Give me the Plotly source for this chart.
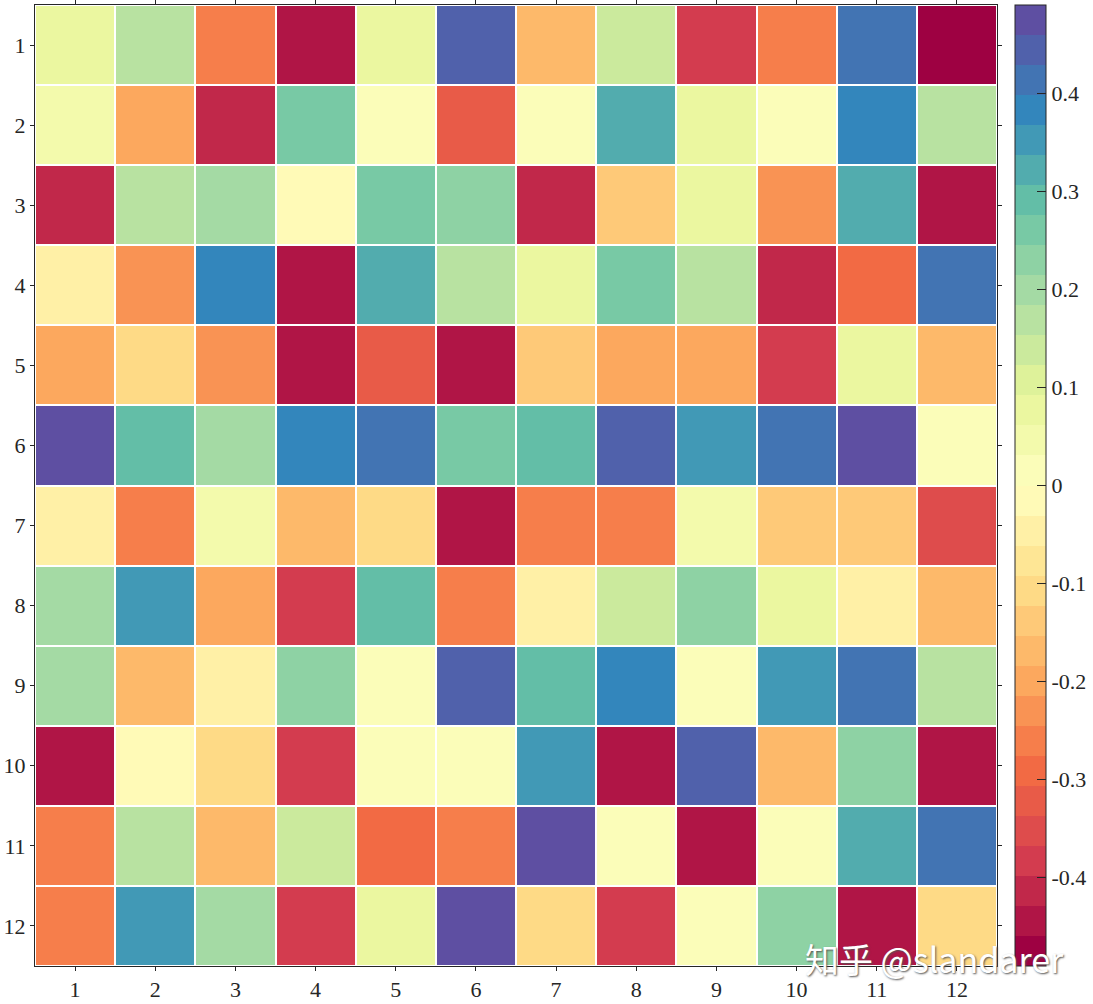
import plotly.graph_objects as go
from plotly.colors import sample_colorscale
from plotly.colors import diverging

rows = [str(i) for i in range(1, 13)]
cols = [str(i) for i in range(1, 13)]

values = [
    [0.08, 0.16, -0.27, -0.44, 0.07, 0.45, -0.18, 0.13, -0.39, -0.27, 0.42, -0.48],
    [0.06, -0.21, -0.41, 0.25, 0.02, -0.33, 0.01, 0.32, 0.09, 0.02, 0.39, 0.16],
    [-0.41, 0.16, 0.19, -0.03, 0.25, 0.22, -0.41, -0.15, 0.09, -0.24, 0.32, -0.44],
    [-0.06, -0.24, 0.39, -0.44, 0.32, 0.16, 0.09, 0.25, 0.16, -0.41, -0.30, 0.42],
    [-0.21, -0.10, -0.24, -0.44, -0.33, -0.44, -0.14, -0.21, -0.21, -0.39, 0.09, -0.17],
    [0.48, 0.29, 0.21, 0.39, 0.42, 0.26, 0.28, 0.45, 0.36, 0.42, 0.48, 0.02],
    [-0.06, -0.27, 0.05, -0.16, -0.10, -0.44, -0.27, -0.27, 0.06, -0.14, -0.15, -0.34],
    [0.19, 0.36, -0.21, -0.37, 0.29, -0.27, -0.05, 0.13, 0.22, 0.09, -0.05, -0.18],
    [0.20, -0.18, -0.05, 0.23, 0.03, 0.45, 0.28, 0.39, 0.03, 0.36, 0.42, 0.16],
    [-0.44, -0.02, -0.10, -0.39, 0.01, 0.00, 0.36, -0.44, 0.45, -0.18, 0.24, -0.44],
    [-0.27, 0.16, -0.16, 0.13, -0.30, -0.27, 0.48, 0.01, -0.44, 0.03, 0.33, 0.42],
    [-0.26, 0.36, 0.19, -0.37, 0.07, 0.48, -0.12, -0.37, 0.01, 0.22, -0.44, -0.10],
]

cbar_ticks = [-0.4, -0.3, -0.2, -0.1, 0, 0.1, 0.2, 0.3, 0.4]
cbar_labels = ["-0.4", "-0.3", "-0.2", "-0.1", "0", "0.1", "0.2", "0.3", "0.4"]
zmin, zmax = -0.49, 0.49

n_levels = 32
base = diverging.Spectral
level_colors = sample_colorscale(base, [i / (n_levels - 1) for i in range(n_levels)])
colorscale = []
for i, c in enumerate(level_colors):
    colorscale.append([i / n_levels, c])
    colorscale.append([(i + 1) / n_levels, c])

font_family = "Liberation Serif"
axis_color = "#262626"

fig = go.Figure(go.Heatmap(
    z=values, x=cols, y=rows,
    colorscale=colorscale, zmin=zmin, zmax=zmax,
    xgap=2, ygap=2,
    colorbar=dict(
        x=1 + 18 / 962, xanchor="left", xpad=0, ypad=0,
        y=0.5, yanchor="middle", len=1, lenmode="fraction",
        thickness=31, thicknessmode="pixels",
        outlinewidth=1, outlinecolor=axis_color,
        ticks="inside", ticklen=9, tickwidth=1, tickcolor=axis_color,
        tickvals=cbar_ticks, ticktext=cbar_labels,
        tickfont=dict(family=font_family, size=22, color=axis_color),
    ),
))

fig.update_xaxes(
    type="category", showline=True, linecolor=axis_color, linewidth=1,
    mirror="ticks", ticks="outside", ticklen=4, tickcolor=axis_color,
    tickfont=dict(family=font_family, size=22, color=axis_color),
    showgrid=False, zeroline=False, automargin=False,
)
fig.update_yaxes(
    type="category", autorange="reversed", showline=True, linecolor=axis_color,
    linewidth=1, mirror="ticks", ticks="outside", ticklen=4, tickcolor=axis_color,
    tickfont=dict(family=font_family, size=22, color=axis_color),
    showgrid=False, zeroline=False, automargin=False,
)

fig.add_annotation(
    text="知乎 @slandarer", xref="paper", yref="paper",
    x=1.072, y=0.008, xanchor="right", yanchor="middle", showarrow=False,
    font=dict(family="Noto Sans CJK SC", size=34, color="white",
              shadow="1px 1px 2px #555555"),
)

fig.update_layout(
    width=1093, height=1004,
    margin=dict(l=35, r=96, t=5, b=38, autoexpand=False),
    paper_bgcolor="white", plot_bgcolor="white",
)

fig.write_html(
    "out.html",
    config={"displayModeBar": False},
    post_script="document.body.style.margin='0px';document.body.style.overflow='hidden';",
)
